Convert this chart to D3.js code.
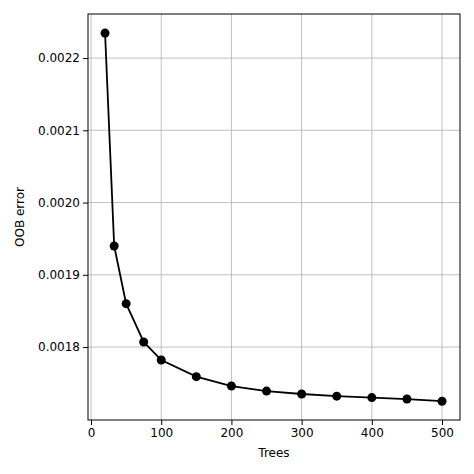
<!DOCTYPE html>
<html><head><meta charset="utf-8">
<script src="https://cdn.jsdelivr.net/npm/d3@7"></script>
<style>body{margin:0;background:#fff}text{font-family:"DejaVu Sans",sans-serif}</style>
</head><body><svg id="c" width="474" height="474"></svg>
<script>
const trees=[20,33,50,75,100,150,200,250,300,350,400,450,500];
const oob=[0.0022346,0.0019398,0.00186,0.001807,0.001782,0.001759,0.001746,0.001739,0.001735,0.001732,0.00173,0.001728,0.001725];
const xTicks=[0,100,200,300,400,500];
const yTicks=[0.0018,0.0019,0.0020,0.0021,0.0022];
const m={l:88,r:460,t:14,b:420};
const svg=d3.select("#c");
const x=d3.scaleLinear().domain([-4.3,525.6]).range([m.l,m.r]);
const y=d3.scaleLinear().domain([0.001699,0.002261]).range([m.b,m.t]);
const g=svg.append("g");
g.selectAll(".gx").data(xTicks).join("line").attr("x1",d=>x(d)).attr("x2",d=>x(d)).attr("y1",m.t).attr("y2",m.b).attr("stroke","#b0b0b0").attr("stroke-width",0.8);
g.selectAll(".gy").data(yTicks).join("line").attr("y1",d=>y(d)).attr("y2",d=>y(d)).attr("x1",m.l).attr("x2",m.r).attr("stroke","#b0b0b0").attr("stroke-width",0.8);
svg.append("g").attr("transform",`translate(0,${m.b})`).call(d3.axisBottom(x).tickValues(xTicks).tickSize(5).tickPadding(3)).call(a=>{a.select(".domain").remove();a.selectAll("text").attr("font-size",12).attr("fill","#000");});
svg.append("g").attr("transform",`translate(${m.l},0)`).call(d3.axisLeft(y).tickValues(yTicks).tickFormat(d3.format(".4f")).tickSize(5).tickPadding(3)).call(a=>{a.select(".domain").remove();a.selectAll("text").attr("font-size",12).attr("fill","#000");});
svg.append("rect").attr("x",m.l).attr("y",m.t).attr("width",m.r-m.l).attr("height",m.b-m.t).attr("fill","none").attr("stroke","#000").attr("stroke-width",1);
const pts=trees.map((t,i)=>[t,oob[i]]);
svg.append("path").datum(pts).attr("d",d3.line().x(d=>x(d[0])).y(d=>y(d[1]))).attr("fill","none").attr("stroke","#000").attr("stroke-width",1.8);
svg.selectAll(".p").data(pts).join("circle").attr("cx",d=>x(d[0])).attr("cy",d=>y(d[1])).attr("r",4.5).attr("fill","#000");
svg.append("text").attr("x",(m.l+m.r)/2).attr("y",457).attr("text-anchor","middle").attr("font-size",12).text("Trees");
svg.append("text").attr("transform",`translate(24,${(m.t+m.b)/2}) rotate(-90)`).attr("text-anchor","middle").attr("font-size",12).text("OOB error");
</script></body></html>
